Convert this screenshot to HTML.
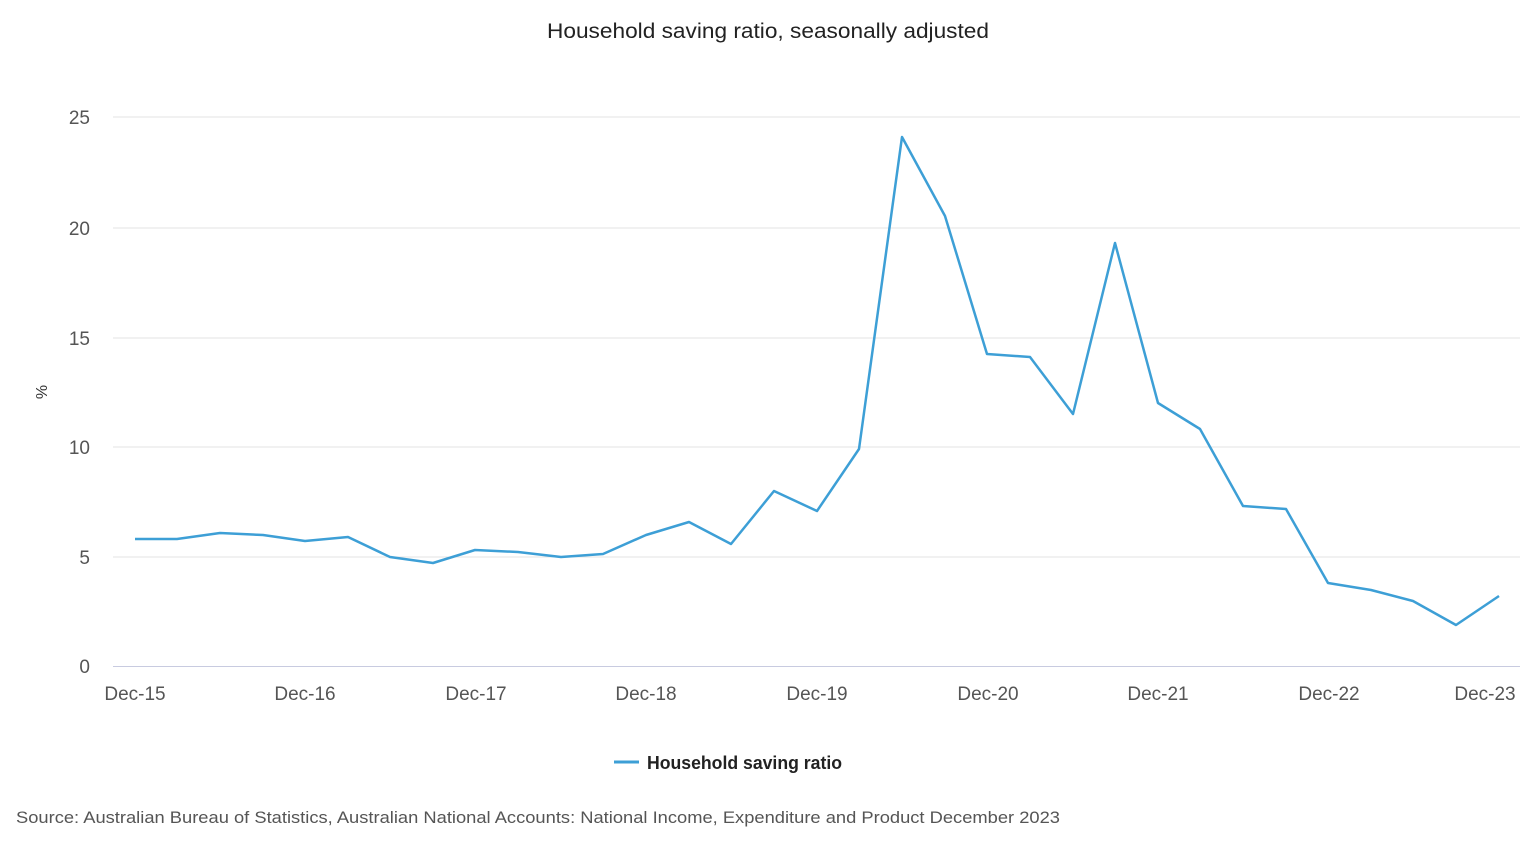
<!DOCTYPE html>
<html><head><meta charset="utf-8"><style>
body{margin:0;background:#fff;width:1536px;height:853px;overflow:hidden;font-family:"Liberation Sans",sans-serif}
</style></head><body>
<svg width="1536" height="853" xmlns="http://www.w3.org/2000/svg" font-family="Liberation Sans, sans-serif">
<text x="547" y="38" textLength="442" lengthAdjust="spacingAndGlyphs" font-size="21" fill="#222">Household saving ratio, seasonally adjusted</text>
<g stroke="#e3e3e3" stroke-width="1">
<line x1="113" x2="1520" y1="117" y2="117"/><line x1="113" x2="1520" y1="228" y2="228"/>
<line x1="113" x2="1520" y1="338" y2="338"/><line x1="113" x2="1520" y1="447" y2="447"/>
<line x1="113" x2="1520" y1="557" y2="557"/></g>
<line x1="113" x2="1520" y1="666.5" y2="666.5" stroke="#c8cbe0" stroke-width="1"/>
<g font-size="19" fill="#555" text-anchor="end">
<text x="90" y="124">25</text><text x="90" y="235">20</text><text x="90" y="345">15</text>
<text x="90" y="454">10</text><text x="90" y="564">5</text><text x="90" y="673">0</text></g>
<text transform="translate(47,392) rotate(-90)" text-anchor="middle" font-size="16" fill="#333">%</text>
<g font-size="19" fill="#555" text-anchor="middle">
<text x="135" y="700">Dec-15</text><text x="305" y="700">Dec-16</text><text x="476" y="700">Dec-17</text>
<text x="646" y="700">Dec-18</text><text x="817" y="700">Dec-19</text><text x="988" y="700">Dec-20</text>
<text x="1158" y="700">Dec-21</text><text x="1329" y="700">Dec-22</text><text x="1485" y="700">Dec-23</text></g>
<polyline fill="none" stroke="#3d9fd6" stroke-width="2.5" stroke-linejoin="round" points="135,539 177,539 220,533 263,535 305,541 348,537 390,557 433,563 475,550 518,552 561,557 603,554 646,535 689,522 731,544 774,491 817,511 859,449 902,137 945,216 987,354 1030,357 1073,414 1115,243 1158,403 1200,429 1243,506 1286,509 1328,583 1371,590 1413,601 1456,625 1499,596"/>
<line x1="614" x2="639" y1="762" y2="762" stroke="#3d9fd6" stroke-width="3"/>
<text x="647" y="769" textLength="195" lengthAdjust="spacingAndGlyphs" font-size="18" font-weight="bold" fill="#222">Household saving ratio</text>
<text x="16" y="823" textLength="1044" lengthAdjust="spacingAndGlyphs" font-size="17" fill="#555">Source: Australian Bureau of Statistics, Australian National Accounts: National Income, Expenditure and Product December 2023</text>
</svg>
</body></html>
